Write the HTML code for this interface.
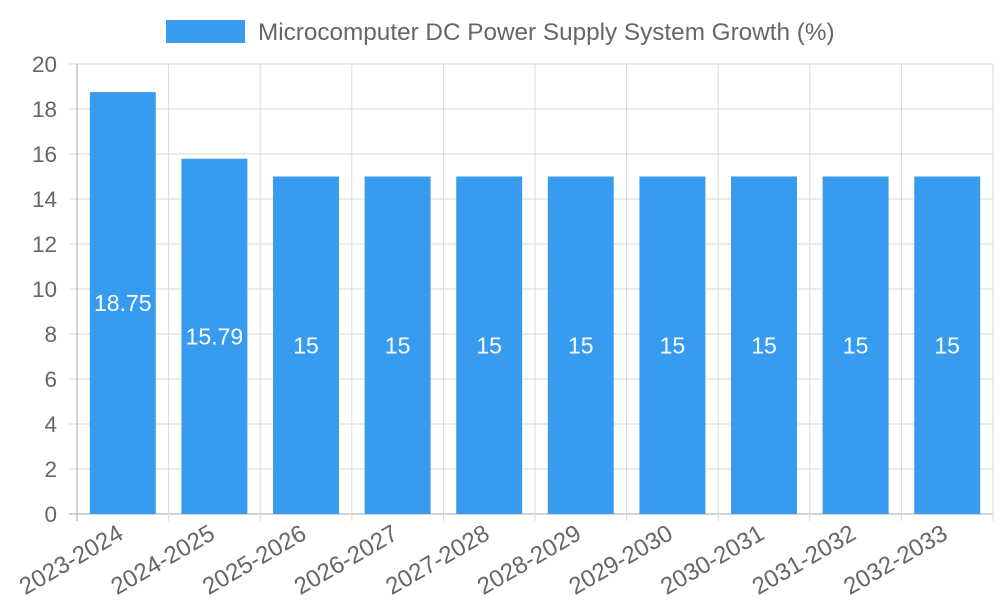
<!DOCTYPE html>
<html><head><meta charset="utf-8"><style>
html,body{margin:0;padding:0;background:#fff;}
svg{display:block;font-family:"Liberation Sans",sans-serif;}
</style></head><body>
<svg id="chart" width="1000" height="600">
  <g id="legend">
    <rect x="166" y="20" width="79" height="23" fill="#379bf0"></rect>
    <text x="258" y="40" font-size="24.3" fill="#666">Microcomputer DC Power Supply System Growth (%)</text>
  </g>
  <g id="grid"></g>
  <g id="bars"></g>
  <g id="axes"></g>
</svg>
<script>
const categories = ["2023-2024","2024-2025","2025-2026","2026-2027","2027-2028","2028-2029","2029-2030","2030-2031","2031-2032","2032-2033"];
const values = [18.75, 15.79, 15, 15, 15, 15, 15, 15, 15, 15];
const valueLabels = ["18.75","15.79","15","15","15","15","15","15","15","15"];
const yTicks = [0,2,4,6,8,10,12,14,16,18,20];

const NS = "http://www.w3.org/2000/svg";
const L = 77, R = 993, T = 64, B = 514, yMax = 20;
const bw = (R - L) / categories.length;
function y(v){ return B - (v / yMax) * (B - T); }
function xStart(i){ return L + i * bw; }
function mk(tag, attrs, parent){
  const e = document.createElementNS(NS, tag);
  for (const k in attrs) e.setAttribute(k, attrs[k]);
  parent.appendChild(e);
  return e;
}
const grid = document.getElementById('grid');
const bars = document.getElementById('bars');
const axes = document.getElementById('axes');

yTicks.forEach(t => {
  const gl = mk('line', {x1: L - 8, x2: R, y1: y(t), y2: y(t), stroke: t === 0 ? '#aaa' : '#d9d9d9', 'stroke-width': 1}, grid);
  
  
  const tl = mk('text', {x: L - 20, y: y(t) + 8, 'text-anchor': 'end', 'font-size': 22.5, fill: '#666'}, axes);
  tl.textContent = t;
  
  
});
for (let i = 0; i <= categories.length; i++) {
  const gl = mk('line', {x1: xStart(i), x2: xStart(i), y1: T, y2: B + 7, stroke: i === 0 ? '#aaa' : '#d9d9d9', 'stroke-width': 1}, grid);
  
  
}
categories.forEach((c, i) => {
  const cx = xStart(i) + bw / 2;
  const w = bw * 0.72;
  const r = mk('rect', {x: cx - w / 2, y: y(values[i]), width: w, height: B - y(values[i]), fill: '#379bf0'}, bars);
  
  
  const vl = mk('text', {x: cx, y: (y(values[i]) + B) / 2 + 8, 'text-anchor': 'middle', 'font-size': 23, fill: '#fff'}, bars);
  vl.textContent = valueLabels[i];
  
  
  const ax = cx + 2, ay = B + 24;
  const xl = mk('text', {x: ax, y: ay, 'text-anchor': 'end', 'font-size': 24, fill: '#666', transform: 'rotate(-30 ' + ax + ' ' + ay + ')'}, axes);
  xl.textContent = c;
  
  
});
</script>
</body></html>
